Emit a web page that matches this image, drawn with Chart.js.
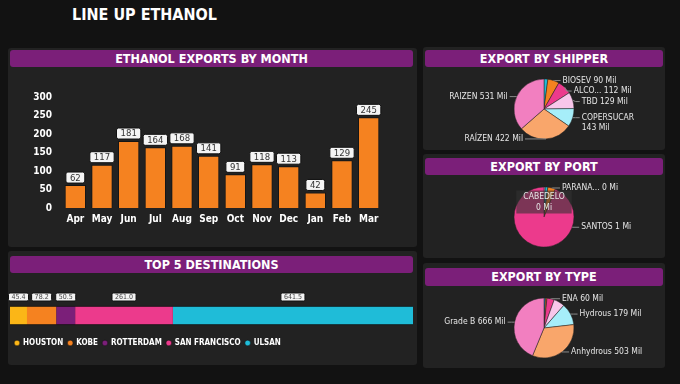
<!DOCTYPE html>
<html>
<head>
<meta charset="utf-8">
<script src="https://cdn.jsdelivr.net/npm/chart.js@4.4.1/dist/chart.umd.min.js"></script>
<style>
  body { margin: 0; width: 680px; height: 384px; background: #121212; overflow: hidden; position: relative;
         font-family: "DejaVu Sans Condensed", "DejaVu Sans", sans-serif; }
  .title { position: absolute; left: 72px; top: 5px; color: #fff; font-weight: bold; font-size: 16px; }
  .panel { position: absolute; background: #222; border-radius: 3px; }
  .hdr { position: absolute; background: #7b1f79; border-radius: 3px; color: #fff; font-weight: bold;
         font-size: 12.5px; text-align: center; }
  canvas { position: absolute; }
</style>
</head>
<body>
<div class="title">LINE UP ETHANOL</div>

<div class="panel" style="left:8px;top:48px;width:409px;height:199px"></div>
<div class="panel" style="left:8px;top:251px;width:409px;height:114px"></div>
<div class="panel" style="left:423px;top:47px;width:242px;height:103px"></div>
<div class="panel" style="left:423px;top:154px;width:242px;height:104px"></div>
<div class="panel" style="left:423px;top:263px;width:242px;height:105px"></div>

<div class="hdr" style="left:10px;top:50px;width:403px;height:17px;line-height:17px">ETHANOL EXPORTS BY MONTH</div>
<div class="hdr" style="left:10px;top:256px;width:403px;height:17px;line-height:17px">TOP 5 DESTINATIONS</div>
<div class="hdr" style="left:425px;top:50px;width:238px;height:17px;line-height:17px">EXPORT BY SHIPPER</div>
<div class="hdr" style="left:425px;top:158px;width:238px;height:17px;line-height:17px">EXPORT BY PORT</div>
<div class="hdr" style="left:425px;top:268px;width:238px;height:18px;line-height:18px">EXPORT BY TYPE</div>

<canvas id="monthChart" width="409" height="177" style="left:8px;top:70px"></canvas>
<canvas id="destChart" width="409" height="89" style="left:8px;top:276px"></canvas>
<canvas id="shipperChart" width="242" height="82" style="left:423px;top:68px"></canvas>
<canvas id="portChart" width="242" height="82" style="left:423px;top:176px"></canvas>
<canvas id="typeChart" width="242" height="80" style="left:423px;top:288px"></canvas>

<script>
// --- data ------------------------------------------------------------------
const MONTHS = ["Apr", "May", "Jun", "Jul", "Aug", "Sep", "Oct", "Nov", "Dec", "Jan", "Feb", "Mar"];
const MONTH_EXPORTS = [62, 117, 181, 164, 168, 141, 91, 118, 113, 42, 129, 245];
const Y_TICKS = [0, 50, 100, 150, 200, 250, 300];

const DESTINATIONS = ["HOUSTON", "KOBE", "ROTTERDAM", "SAN FRANCISCO", "ULSAN"];
const DEST_VALUES = [45.4, 78.2, 50.5, 261.0, 641.5];

const SHIPPERS = ["", "BIOSEV", "ALCO...", "TBD", "COPERSUCAR", "RAÍZEN", "RAIZEN"];
const SHIPPER_VALUES = [30, 90, 112, 129, 143, 422, 531];

const PORTS = ["", "CABEDELO", "PARANA...", "SANTOS"];
const PORT_VALUES = [0.01, 0.02, 0.06, 1.37];

const TYPES = ["", "", "ENA", "", "Hydrous", "Anhydrous", "Grade B"];
const TYPE_VALUES = [12, 12, 60, 90, 179, 503, 666];

// --- styles ----------------------------------------------------------------
const FONT = '"DejaVu Sans Condensed", "DejaVu Sans", sans-serif';
const C = { orange: "#f58220", yellow: "#fbb617", purple: "#7b1f79", magenta: "#ec3a8c", cyan: "#1fbcd8",
            lpink: "#f8c6ea", lcyan: "#a6eef9", peach: "#f9a66b", pink: "#f27fc0", blue: "#2a8fd0" };
const DEST_COLORS = [C.yellow, C.orange, C.purple, C.magenta, C.cyan];
const SHIPPER_COLORS = [C.cyan, C.orange, C.magenta, C.lpink, C.lcyan, C.peach, C.pink];
const PORT_COLORS = [C.lpink, C.cyan, C.orange, C.magenta];
const TYPE_COLORS = [C.blue, C.orange, C.magenta, C.lpink, C.lcyan, C.peach, C.pink];

Chart.defaults.font.family = FONT;
Chart.defaults.color = "#fff";

function box(ctx, x, y, w, h, r) {
  ctx.beginPath();
  ctx.roundRect(x, y, w, h, r);
  ctx.fill();
  ctx.stroke();
}

// value boxes above the month bars
const barLabels = {
  id: "barLabels",
  afterDatasetsDraw(chart) {
    const { ctx } = chart;
    const values = chart.data.datasets[0].data;
    ctx.save();
    ctx.font = `9.5px ${FONT}`;
    ctx.textAlign = "center";
    ctx.textBaseline = "middle";
    chart.getDatasetMeta(0).data.forEach((bar, i) => {
      const txt = String(values[i]);
      const w = ctx.measureText(txt).width + 8, h = 11;
      ctx.fillStyle = "#f4f4f4";
      ctx.strokeStyle = "#111";
      ctx.lineWidth = 1;
      box(ctx, bar.x - w / 2, bar.y - 2 - h, w, h, 2);
      ctx.fillStyle = "#333";
      ctx.fillText(txt, bar.x, bar.y - 2 - h / 2 + 0.5);
    });
    ctx.restore();
  },
};

// small value boxes above each stacked segment
const stackLabels = {
  id: "stackLabels",
  afterDatasetsDraw(chart) {
    const { ctx } = chart;
    ctx.save();
    ctx.font = `7px ${FONT}`;
    ctx.textAlign = "center";
    ctx.textBaseline = "middle";
    chart.data.datasets.forEach((ds, d) => {
      const bar = chart.getDatasetMeta(d).data[0];
      const txt = ds.data[0].toFixed(1);
      const w = ctx.measureText(txt).width + 6, h = 8;
      const cx = (bar.x + bar.base) / 2;
      const top = bar.y - bar.height / 2 - 5 - h;
      ctx.fillStyle = "#f4f4f4";
      ctx.strokeStyle = "#111";
      ctx.lineWidth = 1;
      box(ctx, cx - w / 2, top, w, h, 1.5);
      ctx.fillStyle = "#444";
      ctx.fillText(txt, cx, top + h / 2 + 0.5);
    });
    ctx.restore();
  },
};

// outside labels with leader lines for the pies
const pieLabels = {
  id: "pieLabels",
  afterDatasetsDraw(chart, args, opts) {
    const { ctx } = chart;
    const names = chart.data.labels;
    const values = chart.data.datasets[0].data;
    const lineH = 10.5;
    const sides = { left: [], right: [] };
    ctx.save();
    ctx.font = `8.5px ${FONT}`;
    chart.getDatasetMeta(0).data.forEach((arc, i) => {
      if (!names[i]) return;
      const p = arc.getProps(["x", "y", "startAngle", "endAngle", "outerRadius"], true);
      const val = Math.round(values[i]) + " " + opts.unit;
      if ((opts.inside || []).includes(i)) {
        const lines = [names[i], val];
        const w = Math.max(...lines.map((t) => ctx.measureText(t).width)) + 14;
        const h = 23, bx = p.x - w / 2, by = p.y - p.outerRadius * 0.5 - h / 2;
        ctx.fillStyle = "rgba(50,50,50,0.6)";
        ctx.fillRect(bx, by, w, h);
        ctx.fillStyle = "#e6e6e6";
        ctx.textAlign = "center";
        ctx.textBaseline = "middle";
        ctx.fillText(lines[0], p.x, by + 6.5);
        ctx.fillText(lines[1], p.x, by + 17);
        return;
      }
      const ang = opts.angles && opts.angles[i] != null ? (opts.angles[i] * Math.PI) / 180 : (p.startAngle + p.endAngle) / 2;
      const ex = p.x + p.outerRadius * Math.cos(ang), ey = p.y + p.outerRadius * Math.sin(ang);
      const right = Math.cos(ang) > 0.15;
      const tx = right ? Math.max(ex + 9, p.x + p.outerRadius * 0.6) : Math.min(ex - 9, p.x - p.outerRadius * 0.7);
      const full = names[i] + " " + val;
      const fw = ctx.measureText(full).width;
      const wrap = right ? tx + fw > chart.width - 8 : tx - fw < 8;
      const lines = wrap ? [names[i], val] : [full];
      sides[right ? "right" : "left"].push({ ex, ey, tx, y: ey, lines, right, ang });
    });
    ["left", "right"].forEach((s) => {
      const list = sides[s].sort((a, b) => a.y - b.y);
      for (let k = 1; k < list.length; k++) {
        const prev = list[k - 1];
        list[k].y = Math.max(list[k].y, prev.y + prev.lines.length * lineH);
      }
      list.forEach((l) => {
        const dir = l.right ? 1 : -1;
        ctx.strokeStyle = "#8a8a8a";
        ctx.lineWidth = 1;
        ctx.beginPath();
        ctx.moveTo(l.ex, l.ey);
        ctx.lineTo(l.ex + 3 * Math.cos(l.ang), l.y);
        ctx.lineTo(l.tx - dir * 2, l.y);
        ctx.stroke();
        ctx.fillStyle = "#e6e6e6";
        ctx.textAlign = l.right ? "left" : "right";
        ctx.textBaseline = "middle";
        l.lines.forEach((t, j) => ctx.fillText(t, l.tx, l.y + j * lineH));
      });
    });
    ctx.restore();
  },
};

// --- chart: exports by month ----------------------------------------------
new Chart(document.getElementById("monthChart"), {
  type: "bar",
  data: {
    labels: MONTHS,
    datasets: [{ data: MONTH_EXPORTS, backgroundColor: C.orange, borderColor: "#151515", borderWidth: 1,
                 barPercentage: 0.8, categoryPercentage: 1 }],
  },
  options: {
    responsive: false,
    animation: false,
    layout: { padding: { top: 27, right: 35, left: 0, bottom: 0 } },
    plugins: { legend: { display: false }, tooltip: { enabled: false } },
    scales: {
      x: {
        grid: { display: false, drawTicks: false }, border: { display: false },
        ticks: { color: "#fff", padding: 5, font: { size: 10, weight: "bold" } },
        afterFit: (s) => { s.height = 39; },
      },
      y: {
        min: Y_TICKS[0], max: Y_TICKS[Y_TICKS.length - 1],
        grid: { display: false, drawTicks: false }, border: { display: false },
        ticks: { color: "#fff", stepSize: Y_TICKS[1] - Y_TICKS[0], padding: 10, font: { size: 10, weight: "bold" } },
        afterFit: (s) => { s.width = 54; },
      },
    },
  },
  plugins: [barLabels],
});

// --- chart: top 5 destinations --------------------------------------------
const destTotal = DEST_VALUES.reduce((a, b) => a + b, 0);
new Chart(document.getElementById("destChart"), {
  type: "bar",
  data: {
    labels: [""],
    datasets: DESTINATIONS.map((name, i) => ({
      label: name, data: [DEST_VALUES[i]], backgroundColor: DEST_COLORS[i],
      borderColor: "#111", borderWidth: { top: 1, bottom: 1, left: 0, right: 0 }, borderSkipped: false,
      barThickness: 19,
    })),
  },
  options: {
    responsive: false,
    animation: false,
    indexAxis: "y",
    layout: { padding: { top: 21, right: 4, left: 2, bottom: 8 } },
    plugins: {
      tooltip: { enabled: false },
      legend: {
        position: "bottom", align: "start",
        labels: { usePointStyle: true, pointStyle: "circle", boxWidth: 4, boxHeight: 4, padding: 5,
                  color: "#fff", font: { size: 8, weight: "bold" } },
      },
    },
    scales: {
      x: { stacked: true, display: false, min: 0, max: destTotal },
      y: { stacked: true, display: false },
    },
  },
  plugins: [stackLabels],
});

// --- pies --------------------------------------------------------------------
function pie(id, labels, values, colors, labelOpts) {
  return new Chart(document.getElementById(id), {
    type: "pie",
    data: { labels, datasets: [{ data: values, backgroundColor: colors, borderColor: "#222", borderWidth: 0.5, radius: 30 }] },
    options: {
      responsive: false,
      animation: false,
      plugins: { legend: { display: false }, tooltip: { enabled: false }, pieLabels: labelOpts },
    },
    plugins: [pieLabels],
  });
}

pie("shipperChart", SHIPPERS, SHIPPER_VALUES, SHIPPER_COLORS, { unit: "Mil" });
pie("portChart", PORTS, PORT_VALUES, PORT_COLORS, { unit: "Mi", inside: [1], angles: { 3: 20 } });
pie("typeChart", TYPES, TYPE_VALUES, TYPE_COLORS, { unit: "Mil" });
</script>
</body>
</html>
